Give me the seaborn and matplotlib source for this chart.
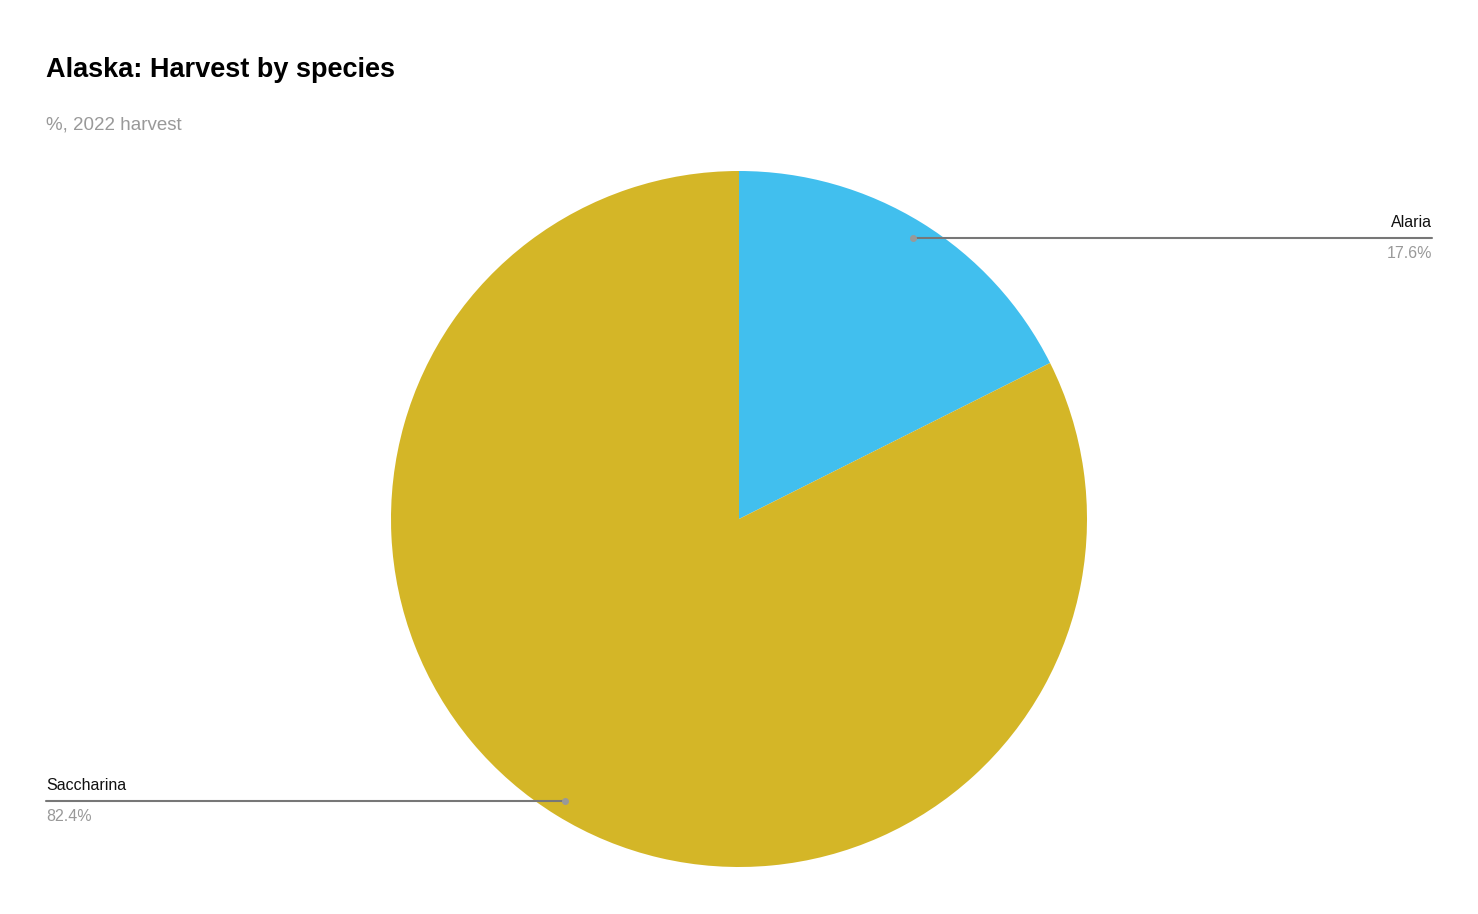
import matplotlib
matplotlib.use("Agg")
import matplotlib.pyplot as plt
import seaborn as sns

species = ["Alaria", "Saccharina"]
shares = [17.6, 82.4]
colors = ["#41BFEE", "#D4B627"]

sns.set_theme(style="white")
plt.rcParams['font.family'] = ['Liberation Sans', 'DejaVu Sans']

W, H = 1478, 914
fig = plt.figure(figsize=(W/100, H/100), dpi=100)
ax = fig.add_axes([0, 0, 1, 1])
ax.set_xlim(0, W)
ax.set_ylim(0, H)
ax.set_aspect('equal')
ax.axis('off')

ax.pie(shares, colors=colors, startangle=90, counterclock=False,
       center=(739, H-519), radius=348, frame=True,
       wedgeprops=dict(linewidth=0))
ax.set_xlim(0, W); ax.set_ylim(0, H); ax.axis('off')

# leader lines and labels
ax.plot([913, 1432], [H-238, H-238], color="#777777", lw=1.5)
ax.plot([913], [H-238], 'o', color="#999999", ms=4)
ax.text(1432, H-230, f"{species[0]}", ha='right', va='bottom', fontsize=11.5, color="#111111")
ax.text(1432, H-246, f"{shares[0]}%", ha='right', va='top', fontsize=11.5, color="#999999")

ax.plot([46, 565], [H-801, H-801], color="#777777", lw=1.5)
ax.plot([565], [H-801], 'o', color="#999999", ms=4)
ax.text(46, H-793, f"{species[1]}", ha='left', va='bottom', fontsize=11.5, color="#111111")
ax.text(46, H-809, f"{shares[1]}%", ha='left', va='top', fontsize=11.5, color="#999999")

fig.text(46/W, 1-70/H, "Alaska: Harvest by species", fontsize=19.5, fontweight='bold',
         color="#000000", va='center', ha='left')
fig.text(46/W, 1-125/H, "%, 2022 harvest", fontsize=13.5, color="#999999", va='center', ha='left')

fig.savefig("out.png", dpi=100, facecolor="white")
